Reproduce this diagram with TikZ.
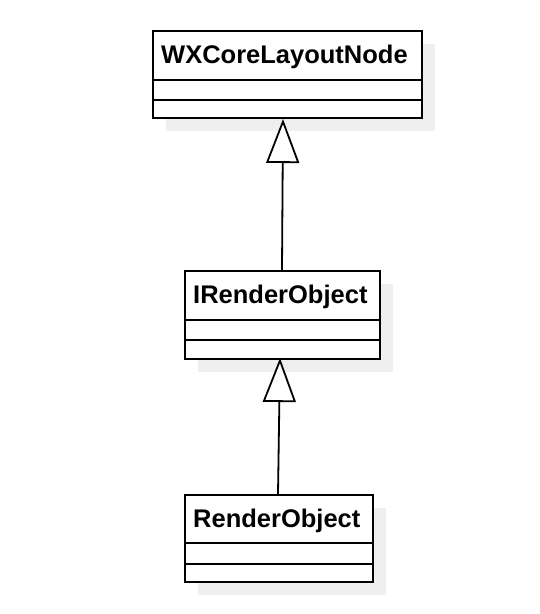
\documentclass[tikz,border=0pt]{standalone}
\usepackage{fontspec}
\setmainfont{Liberation Sans}
\usetikzlibrary{arrows.meta,calc}
\definecolor{shadowgray}{HTML}{EFEFEF}
\tikzset{
  classbox/.style={draw=black, line width=2pt, fill=white, anchor=north west, inner sep=0pt},
  shadowbox/.style={fill=shadowgray, draw=none, anchor=north west, inner sep=0pt},
  classname/.style={anchor=base west, inner sep=0pt, font=\fontsize{25.5}{30}\selectfont\bfseries},
  divider/.style={line width=2pt},
  inherit/.style={line width=1.8pt, -{Triangle[open, length=44pt, width=33pt, fill=white, line width=1.8pt]}}
}
\begin{document}
\begin{tikzpicture}[x=1pt,y=-1pt]
\useasboundingbox[fill=white] (0,0) rectangle (540,614);
% shadows
\node[shadowbox, minimum width=269pt, minimum height=87pt] (wxs) at (166,44) {};
\node[shadowbox, minimum width=195pt, minimum height=88pt] (irs) at (198,284) {};
\node[shadowbox, minimum width=188pt, minimum height=87pt] (ros) at (198,508) {};
% boxes
\node[classbox, minimum width=269pt, minimum height=87pt] (wx) at (152,30) {};
\node[classbox, minimum width=195pt, minimum height=88pt] (ir) at (184,270) {};
\node[classbox, minimum width=188pt, minimum height=87pt] (ro) at (184,494) {};
% names
\node[classname] (wxt) at (161,63) {WXCoreLayoutNode};
\node[classname] (irt) at (193,303) {IRenderObject};
\node[classname] (rot) at (193,527) {RenderObject};
% dividers
\draw[divider] ($(wx.north west)+(0,50)$) -- ($(wx.north east)+(0,50)$);
\draw[divider] ($(wx.north west)+(0,70)$) -- ($(wx.north east)+(0,70)$);
\draw[divider] ($(ir.north west)+(0,50)$) -- ($(ir.north east)+(0,50)$);
\draw[divider] ($(ir.north west)+(0,70)$) -- ($(ir.north east)+(0,70)$);
\draw[divider] ($(ro.north west)+(0,49)$) -- ($(ro.north east)+(0,49)$);
\draw[divider] ($(ro.north west)+(0,70)$) -- ($(ro.north east)+(0,70)$);
% inheritance
\draw[inherit] ($(ir.north west)+(98,0)$) -- ($(wx.south west)+(131,0)$);
\draw[inherit] ($(ro.north west)+(94,0)$) -- ($(ir.north west)+(96,88)$);
\end{tikzpicture}
\end{document}
